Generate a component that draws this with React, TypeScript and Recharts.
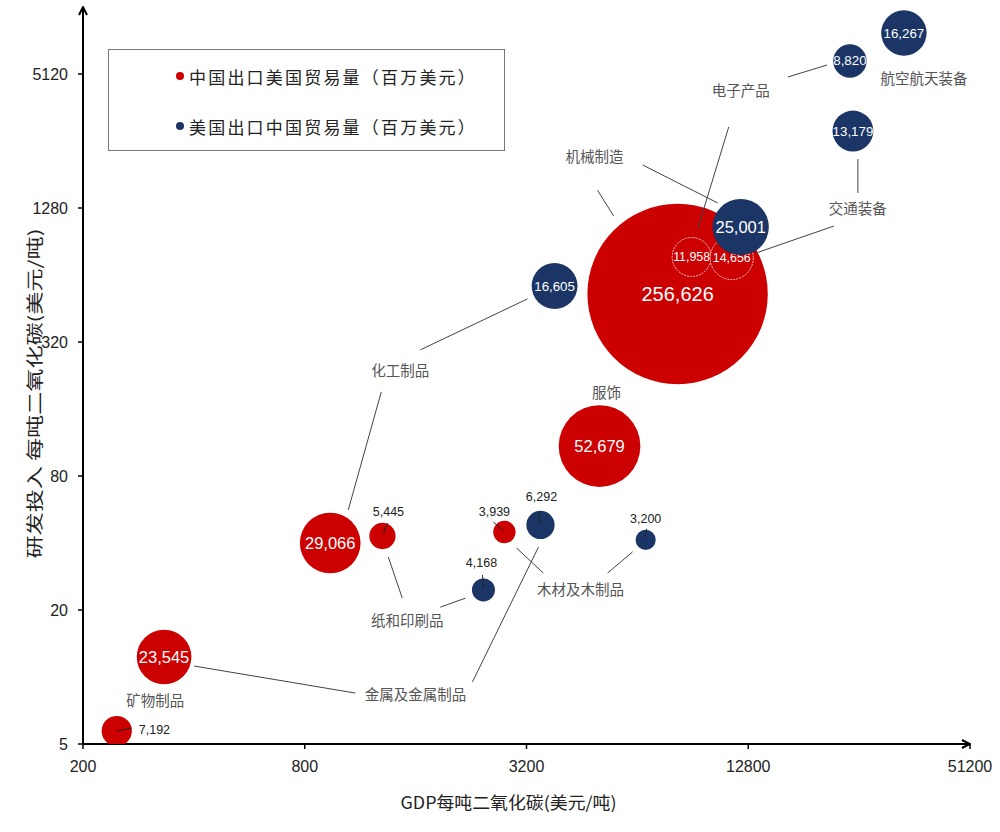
import React from 'react';
import { ScatterChart, Scatter, XAxis, YAxis, Legend } from 'recharts';

// 中国出口美国 (red bubbles)
const CN_CATEGORIES = ['矿物制品', '金属及金属制品', '化工制品', '纸和印刷品', '木材及木制品', '服饰', '机械制造', '电子产品', '交通装备'];
const CN_GDP_PER_CO2 = [247, 332, 938, 1300, 2787, 5052, 8230, 8985, 11545];
const CN_RD_PER_CO2 = [5.72, 12.3, 40, 43, 44.8, 109, 526, 771, 763];
const CN_TRADE = [7192, 23545, 29066, 5445, 3939, 52679, 256626, 11958, 14656];

// 美国出口中国 (blue bubbles)
const US_CATEGORIES = ['纸和印刷品', '金属及金属制品', '木材及木制品', '化工制品', '机械制造', '交通装备', '电子产品', '航空航天装备'];
const US_GDP_PER_CO2 = [2445, 3492, 6740, 3814, 12210, 24630, 24170, 33870];
const US_RD_PER_CO2 = [24.6, 48.2, 41.3, 571, 1051, 2838, 5858, 7823];
const US_TRADE = [4168, 6292, 3200, 16605, 25001, 13179, 8820, 16267];

const X_TICKS = [200, 800, 3200, 12800, 51200];
const Y_TICKS = [5, 20, 80, 320, 1280, 5120];

// category annotations (data units)
const NOTE_NAMES = ['机械制造', '电子产品', '交通装备', '航空航天装备', '化工制品', '服饰', '纸和印刷品', '木材及木制品', '金属及金属制品', '矿物制品'];
const NOTE_X = [4896, 12210, 25400, 38400, 1454, 5280, 1519, 4487, 1598, 314];
const NOTE_Y = [2214, 4339, 1293, 4963, 242, 191, 18.2, 25.1, 8.4, 7.9];

// leader lines from annotation to bubble (data units)
const LEADERS: [number, number, number, number][] = [
  [4990, 1537, 5517, 1179],
  [6612, 1998, 10580, 1348],
  [16400, 4963, 20930, 5616],
  [11330, 2960, 9330, 1030],
  [25400, 2125, 25400, 1495],
  [21860, 1062, 13420, 803],
  [1648, 295, 3220, 500],
  [1291, 191, 1050, 56.3],
  [1349, 34.6, 1472, 22.6],
  [1867, 20.6, 2184, 22.6],
  [3006, 38, 3558, 29.3],
  [5312, 29.3, 6212, 36.5],
  [401, 11.2, 1097, 8.47],
  [2282, 9.5, 3450, 38.4],
];

const RED = '#CC0000';
const BLUE = '#1B3666';
const K = 0.178; // bubble radius per sqrt(value)

// small bubbles get their number outside, with a short tick
const OUTSIDE_LABELS: Record<string, { dx: number; dy: number; anchor: 'start' | 'middle'; line: number[] }> = {
  '7192': { dx: 22, dy: -1, anchor: 'start', line: [1, 0, 15, -3] },
  '5445': { dx: 6, dy: -24, anchor: 'middle', line: [1, -2, 5, -13] },
  '3939': { dx: -10, dy: -20, anchor: 'middle', line: [-11, -10, -1, -1] },
  '6292': { dx: 1, dy: -28, anchor: 'middle', line: [-1, -12, -1, -2] },
  '4168': { dx: -2, dy: -27, anchor: 'middle', line: [-1, -15, 0, -2] },
  '3200': { dx: 0, dy: -21, anchor: 'middle', line: [1, -11, -1, -2] },
};
const OUTLINED = ['电子产品', '交通装备'];

const NUM_FONT = '"Liberation Sans", Arial, sans-serif';
const CJK_FONT = '"Noto Sans CJK SC", "Noto Sans", sans-serif';

const cnData = CN_CATEGORIES.map((name, i) => ({ name, x: CN_GDP_PER_CO2[i], y: CN_RD_PER_CO2[i], z: CN_TRADE[i], outlined: OUTLINED.includes(name) }));
const usData = US_CATEGORIES.map((name, i) => ({ name, x: US_GDP_PER_CO2[i], y: US_RD_PER_CO2[i], z: US_TRADE[i], outlined: false }));
const noteData = NOTE_NAMES.map((name, i) => ({ name, x: NOTE_X[i], y: NOTE_Y[i] }));

const Bubble = (props: any) => {
  const { cx, cy, payload, color } = props;
  if (cx == null || cy == null) return null;
  const v: number = payload.z;
  const r = K * Math.sqrt(v);
  const text = v.toLocaleString('en-US');
  const out = OUTSIDE_LABELS[String(v)];
  let fontSize = 13.3;
  if (payload.outlined) fontSize = 12.4;
  else if (r > 80) fontSize = 20;
  else if (r >= 25) fontSize = 16.5;
  return (
    <g>
      <circle
        cx={cx}
        cy={cy}
        r={r}
        fill={color}
        stroke={payload.outlined ? '#f2c4c4' : 'none'}
        strokeWidth={1}
        strokeDasharray={payload.outlined ? '2 1' : undefined}
      />
      {out ? (
        <g>
          <line x1={cx + out.line[0]} y1={cy + out.line[1]} x2={cx + out.line[2]} y2={cy + out.line[3]} stroke="#222" strokeWidth={1} />
          <text x={cx + out.dx} y={cy + out.dy} textAnchor={out.anchor} dominantBaseline="central" fontSize={12.5} fill="#222" fontFamily={NUM_FONT}>
            {text}
          </text>
        </g>
      ) : (
        <text x={cx} y={cy} textAnchor="middle" dominantBaseline="central" fontSize={fontSize} fill="#fff" fontFamily={NUM_FONT}>
          {text}
        </text>
      )}
    </g>
  );
};

const Note = (props: any) => {
  const { cx, cy, payload } = props;
  if (cx == null || cy == null) return null;
  return (
    <text x={cx} y={cy} textAnchor="middle" dominantBaseline="central" fontSize={14.5} fill="#555" fontFamily={CJK_FONT}>
      {payload.name}
    </text>
  );
};

const NoPoint = () => <g />;

const XTitle = (props: any) => {
  const vb = props.viewBox || { x: 83, y: 744, width: 887, height: 88 };
  const x = vb.x + vb.width / 2 - 18;
  const y = vb.y + 57;
  return (
    <text x={x} y={y} textAnchor="middle" dominantBaseline="central" fontSize={17} fill="#222" fontFamily={CJK_FONT} textLength={216} lengthAdjust="spacingAndGlyphs">
      GDP每吨二氧化碳(美元/吨)
    </text>
  );
};

const YTitle = (props: any) => {
  const vb = props.viewBox || { x: 0, y: 7, width: 83, height: 737 };
  const x = vb.x + 33;
  const y = vb.y + vb.height / 2 + 18;
  return (
    <text
      x={x}
      y={y}
      transform={`rotate(-90 ${x} ${y})`}
      textAnchor="middle"
      dominantBaseline="central"
      fontSize={17}
      fill="#222"
      fontFamily={CJK_FONT}
      textLength={330}
      lengthAdjust="spacingAndGlyphs"
    >
      研发投入 每吨二氧化碳(美元/吨)
    </text>
  );
};

const LegendBox = () => {
  const rows = [
    { color: RED, label: '中国出口美国贸易量（百万美元）' },
    { color: BLUE, label: '美国出口中国贸易量（百万美元）' },
  ];
  return (
    <div style={{ width: 395, height: 100, border: '1px solid #777', background: '#fff', position: 'relative' }}>
      {rows.map((row, i) => (
        <div key={row.label} style={{ position: 'absolute', left: 67, top: 14 + i * 50, height: 24, display: 'flex', alignItems: 'center' }}>
          <span style={{ width: 8, height: 8, borderRadius: 4, background: row.color, display: 'inline-block', marginRight: 5 }} />
          <span style={{ fontFamily: CJK_FONT, fontSize: 17, letterSpacing: 2.2, color: '#222', whiteSpace: 'nowrap' }}>{row.label}</span>
        </div>
      ))}
    </div>
  );
};

const tickStyle = { fontSize: 16, fill: '#222', fontFamily: NUM_FONT };

export default function App() {
  return (
    <div style={{ position: 'absolute', left: 0, top: 0, width: 1000, height: 832, background: '#fff' }}>
      <svg width={0} height={0} style={{ position: 'absolute' }}>
        <defs>
          <marker id="axisArrow" viewBox="0 0 10 10" refX="9" refY="5" markerWidth="10" markerHeight="10" markerUnits="userSpaceOnUse" orient="auto-start-reverse">
            <path d="M1,1 L9,5 L1,9" fill="none" stroke="#000" strokeWidth={2} />
          </marker>
        </defs>
      </svg>
      <ScatterChart width={1000} height={832} margin={{ top: 7, right: 30, left: 0, bottom: 0 }}>
        <XAxis
          type="number"
          dataKey="x"
          scale="log"
          domain={[200, 51200]}
          ticks={X_TICKS}
          allowDataOverflow
          height={88}
          tickSize={5}
          tickMargin={12}
          tick={tickStyle}
          tickLine={{ stroke: '#000', strokeWidth: 1.5 }}
          axisLine={{ stroke: '#000', strokeWidth: 2, markerEnd: 'url(#axisArrow)' }}
          label={XTitle}
        />
        <YAxis
          type="number"
          dataKey="y"
          scale="log"
          domain={[5, 10240]}
          ticks={Y_TICKS}
          allowDataOverflow
          width={83}
          tickSize={5}
          tickMargin={10}
          tick={tickStyle}
          tickLine={{ stroke: '#000', strokeWidth: 1.5 }}
          axisLine={{ stroke: '#000', strokeWidth: 2, markerStart: 'url(#axisArrow)' }}
          label={YTitle}
        />
        <Legend
          layout="vertical"
          align="center"
          verticalAlign="middle"
          wrapperStyle={{ left: 108, top: 49, width: 397, height: 102 }}
          content={LegendBox}
        />
        <Scatter name="中国出口美国贸易量（百万美元）" data={cnData} fill={RED} isAnimationActive={false} shape={(p: any) => <Bubble {...p} color={RED} />} />
        <Scatter name="美国出口中国贸易量（百万美元）" data={usData} fill={BLUE} isAnimationActive={false} shape={(p: any) => <Bubble {...p} color={BLUE} />} />
        {LEADERS.map((l, i) => (
          <Scatter
            key={`leader-${i}`}
            name={`leader-${i}`}
            data={[{ x: l[0], y: l[1] }, { x: l[2], y: l[3] }]}
            legendType="none"
            isAnimationActive={false}
            line={{ stroke: '#444', strokeWidth: 1 }}
            shape={NoPoint}
          />
        ))}
        <Scatter name="notes" data={noteData} legendType="none" isAnimationActive={false} shape={Note} />
      </ScatterChart>
    </div>
  );
}
